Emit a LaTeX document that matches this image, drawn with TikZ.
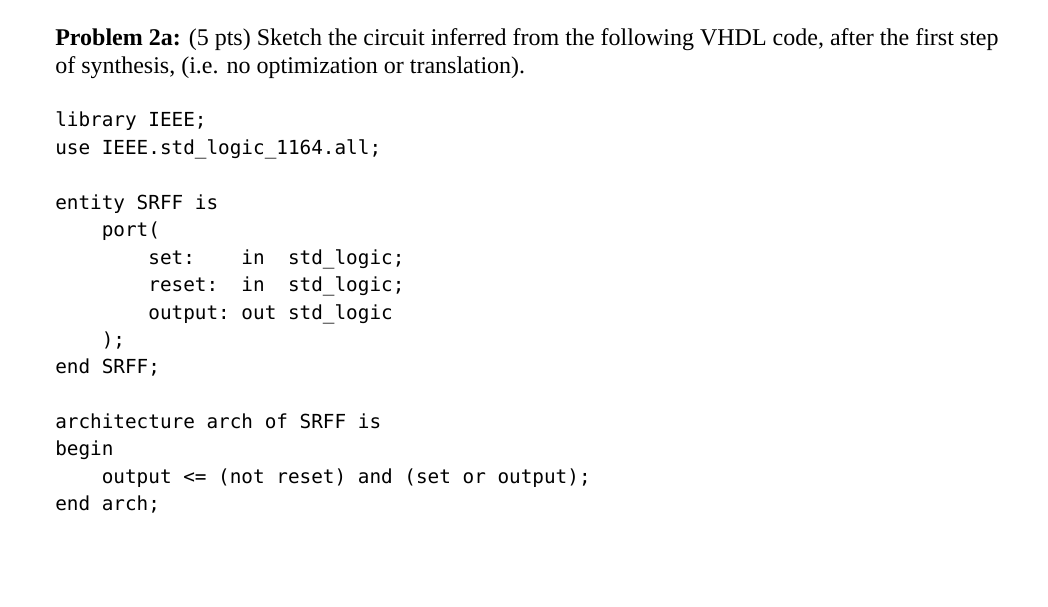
\documentclass[tikz,border=0pt]{standalone}
\usepackage{fontspec}
\setmainfont{Liberation Serif}
\setmonofont{DejaVu Sans Mono}
\begin{document}
\begin{tikzpicture}[x=0.75pt,y=-0.75pt,
  hd/.style={anchor=base west,inner sep=0pt,font=\fontsize{18}{20}\selectfont},
  cd/.style={anchor=base west,inner sep=0pt,font=\ttfamily\fontsize{14.5}{16}\selectfont}]
\useasboundingbox (0,0) rectangle (1048,606);
\node[hd] (h1) at (55,46) {\textbf{Problem 2a:} (5 pts) Sketch the circuit inferred from the following VHDL code, after the first step};
\node[hd] (h2) at (55,74) {of synthesis, (i.e. no optimization or translation).};
\node[cd] (l1) at (55,127) {library IEEE;};
\node[cd] (l2) at (55,154) {use IEEE.std\_logic\_1164.all;};
\node[cd] (l3) at (55,209) {entity SRFF is};
\node[cd] (l4) at (55,236) {\ \ \ \ port(};
\node[cd] (l5) at (55,264) {\ \ \ \ \ \ \ \ set:\ \ \ \ in\ \ std\_logic;};
\node[cd] (l6) at (55,291) {\ \ \ \ \ \ \ \ reset:\ \ in\ \ std\_logic;};
\node[cd] (l7) at (55,319) {\ \ \ \ \ \ \ \ output: out std\_logic};
\node[cd] (l8) at (55,346) {\ \ \ \ );};
\node[cd] (l9) at (55,373) {end SRFF;};
\node[cd] (l10) at (55,428) {architecture arch of SRFF is};
\node[cd] (l11) at (55,455) {begin};
\node[cd] (l12) at (55,483) {\ \ \ \ output <= (not reset) and (set or output);};
\node[cd] (l13) at (55,510) {end arch;};
\end{tikzpicture}
\end{document}
